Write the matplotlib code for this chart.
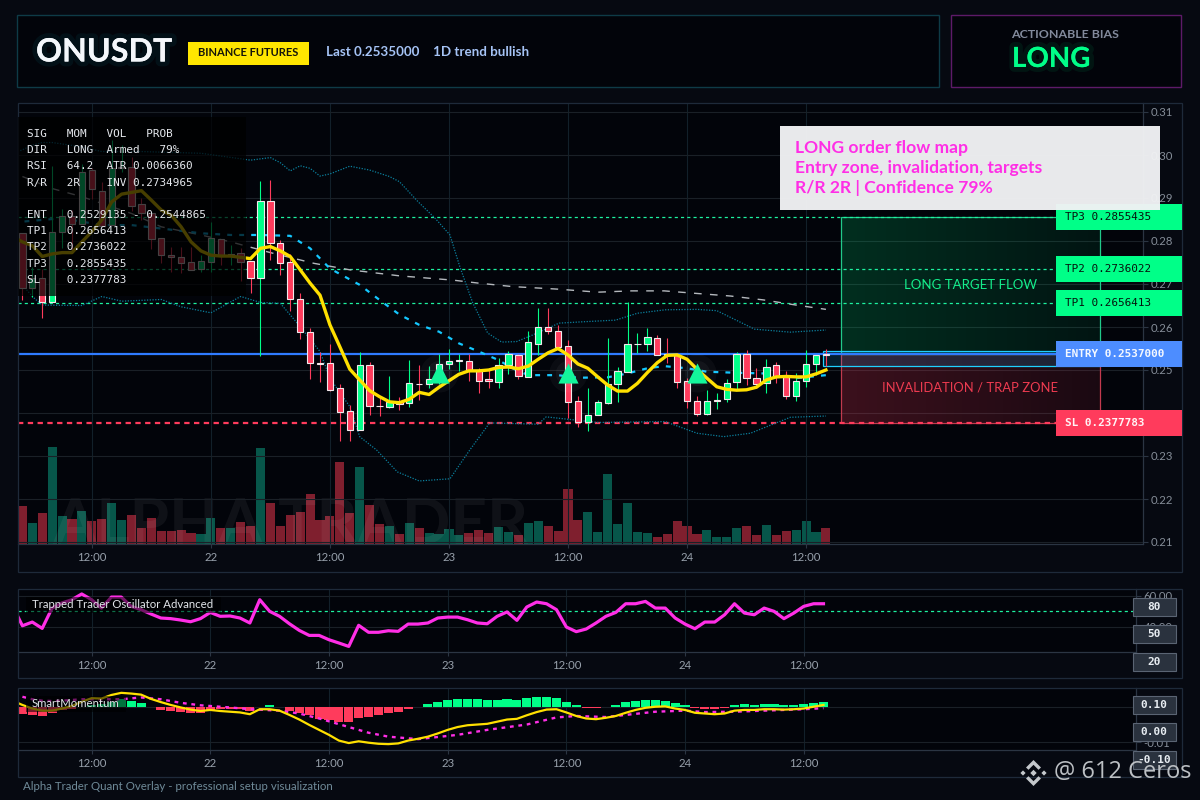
"""ONUSDT long setup chart with volume, oscillator and momentum panes."""

import matplotlib

matplotlib.use("Agg")

import matplotlib.patheffects as pe
import matplotlib.pyplot as plt
import numpy as np
from matplotlib.patches import Polygon, Rectangle

plt.rcParams["font.family"] = ["Lato", "DejaVu Sans"]

W, H = 1200, 800
BG = "#060911"
PANEL = "#02040a"
GRID = "#1a2027"
EDGE = "#1e2a3a"
GREEN = "#00ff88"
RED = "#ff3b5c"
YELLOW = "#ffe000"
MAGENTA = "#ff2ee6"
CYAN = "#14c8ff"
MONO = "DejaVu Sans Mono"

TP1, TP2, TP3 = 0.2656413, 0.2736022, 0.2855435
ENTRY = 0.2537
SL = 0.2377783
ENTRY_TOP, ENTRY_BOTTOM = 0.2544, 0.2509

opens = [
    .2818, .2691, .2715, .2657, .2820, .2857, .2839, .2965, .2917, .2837,
    .2969, .2973, .2885, .2864, .2806, .2767, .2762, .2750, .2734, .2752,
    .2804, .2765, .2771, .2753, .2715, .2894, .2796, .2750, .2666, .2588,
    .2516, .2516, .2457, .2404, .2360, .2511, .2417, .2414, .2426, .2423,
    .2468, .2467, .2477, .2515, .2521, .2522, .2500, .2478, .2473, .2512,
    .2534, .2483, .2561, .2599, .2590, .2555, .2427, .2380, .2395, .2424,
    .2468, .2495, .2560, .2560, .2574, .2537, .2534, .2474, .2429, .2398,
    .2428, .2432, .2471, .2538, .2481, .2469, .2511, .2484, .2440, .2474,
    .2513, .2537,
]
closes = [
    .2691, .2713, .2657, .2820, .2857, .2839, .2961, .2920, .2835, .2969,
    .2973, .2882, .2864, .2804, .2767, .2762, .2750, .2733, .2753, .2806,
    .2765, .2770, .2752, .2715, .2894, .2796, .2750, .2666, .2588, .2516,
    .2515, .2454, .2403, .2360, .2511, .2417, .2416, .2426, .2420, .2469,
    .2467, .2478, .2515, .2522, .2522, .2500, .2475, .2474, .2511, .2537,
    .2485, .2564, .2599, .2590, .2554, .2426, .2380, .2395, .2425, .2467,
    .2497, .2560, .2560, .2576, .2536, .2535, .2473, .2429, .2398, .2429,
    .2429, .2469, .2537, .2481, .2468, .2508, .2484, .2440, .2474, .2513,
    .2536, .2535,
]
highs = [
    .2819, .2740, .2736, .2974, .2874, .2872, .2980, .2969, .2938, .3035,
    .3023, .2996, .2899, .2868, .2806, .2787, .2787, .2787, .2767, .2845,
    .2804, .2790, .2783, .2753, .2939, .2942, .2802, .2770, .2678, .2597,
    .2542, .2560, .2467, .2419, .2542, .2519, .2438, .2486, .2437, .2523,
    .2512, .2509, .2537, .2549, .2537, .2537, .2504, .2504, .2529, .2545,
    .2537, .2591, .2644, .2644, .2605, .2570, .2440, .2458, .2430, .2574,
    .2506, .2657, .2585, .2597, .2581, .2574, .2539, .2481, .2440, .2453,
    .2447, .2479, .2543, .2546, .2504, .2526, .2519, .2497, .2492, .2546,
    .2536, .2550,
]
lows = [
    .2663, .2670, .2622, .2657, .2783, .2779, .2839, .2898, .2835, .2837,
    .2960, .2870, .2849, .2781, .2750, .2729, .2726, .2733, .2729, .2729,
    .2744, .2744, .2707, .2680, .2533, .2756, .2721, .2638, .2573, .2480,
    .2472, .2452, .2336, .2336, .2360, .2395, .2392, .2411, .2407, .2415,
    .2430, .2457, .2467, .2502, .2498, .2474, .2447, .2457, .2459, .2491,
    .2478, .2483, .2535, .2584, .2547, .2388, .2368, .2359, .2395, .2420,
    .2426, .2495, .2539, .2544, .2536, .2517, .2457, .2412, .2392, .2395,
    .2409, .2426, .2454, .2465, .2457, .2447, .2469, .2433, .2429, .2461,
    .2488, .2509,
]
volumes = [
    38, 21, 31, 97, 28, 25, 33, 23, 25, 41, 24, 29, 16, 26, 13, 13, 14, 11, 10, 26,
    16, 16, 22, 18, 96, 41, 18, 29, 32, 50, 24, 28, 82, 31, 77, 39, 20, 18, 10, 21,
    16, 11, 10, 15, 9, 11, 14, 11, 17, 12, 9, 21, 23, 18, 13, 55, 24, 32, 12, 70,
    20, 41, 12, 11, 7, 10, 23, 18, 10, 14, 7, 7, 16, 18, 9, 19, 9, 13, 14, 23,
    12, 16,
]
# first value of each of these sits one bar left of the pane edge
ema_fast = [
    .2810, .2798, .2789, .2764, .2770, .2773, .2773, .2798, .2822, .2849, .2891,
    .2909, .2913, .2917, .2895, .2872, .2860, .2833, .2798, .2777, .2767,
    .2765, .2765, .2762, .2759, .2783, .2787, .2777, .2764, .2733, .2702,
    .2674, .2605, .2554, .2502, .2477, .2452, .2438, .2426, .2424, .2432,
    .2448, .2443, .2460, .2475, .2490, .2498, .2498, .2500, .2506, .2507,
    .2503, .2509, .2525, .2540, .2550, .2535, .2514, .2504, .2484, .2465,
    .2451, .2451, .2469, .2494, .2517, .2534, .2535, .2525, .2502, .2481,
    .2461, .2455, .2453, .2454, .2460, .2477, .2484, .2485, .2484, .2484,
    .2491, .2500,
]
oscillator = [
    53.6, 40.6, 43.0, 38.9, 52.0, 55.3, 57.4, 61.1, 57.4, 52.0, 59.1,
    59.1, 53.1, 51.0, 48.2, 45.6, 45.2, 44.3, 43.2, 45.2, 49.2,
    46.7, 46.9, 45.6, 42.4, 57.4, 49.9, 46.7, 41.9, 37.6, 34.4,
    34.4, 31.6, 29.5, 27.3, 40.9, 36.4, 36.4, 37.4, 37.0, 41.7,
    41.7, 42.4, 45.6, 46.2, 46.2, 44.5, 42.4, 41.9, 46.7, 49.5,
    44.1, 52.7, 55.9, 54.8, 51.0, 39.8, 36.8, 38.5, 42.4, 46.7,
    49.2, 54.8, 54.8, 56.3, 52.0, 52.0, 45.6, 41.7, 38.7, 43.0,
    43.0, 47.7, 54.8, 48.8, 47.7, 52.0, 49.9, 45.2, 48.8, 53.1,
    54.8, 54.8,
]
momentum_line = [
    .0017, .0005, -.0005, -.0011, -.0011, -.0005, .0002, .0014, .0024, .0023, .0033,
    .0039, .0037, .0034, .0022, .0013, .0005, -.0002, -.0008, -.0012, -.0009,
    -.0012, -.0014, -.0016, -.0021, -.0007, -.0007, -.0011, -.0023, -.0036, -.0051,
    -.0065, -.0079, -.0095, -.0102, -.0097, -.0101, -.0104, -.0105, -.0103, -.0095,
    -.0090, -.0084, -.0075, -.0065, -.0057, -.0052, -.0050, -.0048, -.0042, -.0036,
    -.0034, -.0024, -.0015, -.0008, -.0007, -.0016, -.0026, -.0033, -.0035, -.0031,
    -.0026, -.0017, -.0009, -.0003, .0000, .0001, -.0005, -.0009, -.0017, -.0019,
    -.0021, -.0019, -.0011, -.0009, -.0009, -.0007, -.0007, -.0008, -.0007, -.0005,
    .0000, .0005,
]
momentum_hist = [
    -.0021, -.0023, -.0026, -.0017, -.0009, -.0005, -.0001, .0005, .0008, .0014,
    .0021, .0017, .0010, -.0001, -.0009, -.0012, -.0015, -.0018, -.0017, -.0008,
    -.0007, -.0006, -.0007, -.0011, -.0001, .0005, -.0001, -.0011, -.0019, -.0023,
    -.0035, -.0037, -.0042, -.0043, -.0032, -.0028, -.0023, -.0017, -.0014, -.0007,
    -.0001, .0007, .0013, .0019, .0022, .0022, .0022, .0019, .0019, .0021,
    .0019, .0024, .0027, .0027, .0024, .0013, .0005, -.0004, -.0004, -.0001,
    .0005, .0013, .0016, .0019, .0019, .0016, .0010, .0005, -.0004, -.0007,
    -.0007, -.0004, .0005, .0007, .0005, .0007, .0007, .0005, .0005, .0007,
    .0010, .0013,
]
signal_idx = [
    0, 1, 2, 3, 4, 5, 6, 8, 10, 12, 14, 16, 18, 21, 23, 26, 28, 30, 32, 35, 37, 40,
    44, 47, 51, 54, 56, 59, 61, 64, 67, 69, 72, 76, 79, 81,
]
signal_vals = [
    .0028, .0021, .0017, .0016, .0017, .0019, .0021, .0021, .0021, .0026, .0021,
    .0011, .0004, -.0002, -.0007, -.0011, -.0019, -.0033, -.0049, -.0073, -.0084,
    -.0091, -.0079, -.0065, -.0050, -.0030, -.0026, -.0029, -.0023, -.0014, -.0011,
    -.0015, -.0014, -.0010, -.0007, -.0004,
]
upper_idx = [
    -1, 0, 1, 2, 3, 6, 8, 12, 18, 23, 25, 26, 27, 28, 29, 30, 31, 33, 35, 37, 38,
    39.9, 41.6, 43.1, 44.1, 45.4, 46.9, 48.3, 49.8, 51.4, 54.1, 56.4, 59.8, 62,
    64.8, 68, 70, 73.8, 77.4, 81,
]
upper_vals = [
    .3004, .3012, .3023, .3029, .3029, .3019, .3008, .3008, .3004, .2988, .2994,
    .2982, .2963, .2975, .2969, .2951, .2956, .2974, .2965, .2950, .2938,
    .2891, .2853, .2814, .2740, .2656, .2586, .2565, .2566, .2581, .2609, .2612,
    .2616, .2632, .2640, .2641, .2638, .2595, .2588, .2593,
]
lower_idx = [
    -1, 0, 1, 2, 6, 8, 10, 14, 16, 19, 22, 24, 26, 28, 30, 31, 33, 34, 35.7, 37.8,
    40, 43.1, 45.1, 47.1, 52, 52.8, 58, 64.8, 68, 70.7, 73.4, 77.4, 81,
]
lower_vals = [
    .2717, .2698, .2671, .2651, .2650, .2671, .2660, .2664, .2647, .2633, .2671,
    .2657, .2655, .2601, .2543, .2481, .2415, .2345, .2314, .2263, .2242, .2247,
    .2314, .2377, .2374, .2391, .2378, .2380, .2353, .2345, .2353, .2390, .2393,
]
slow_idx = [
    -1, 0, 4, 8, 11, 14, 18, 21, 24, 27, 29, 31, 34, 36, 38, 40, 42, 44, 46, 48,
    49.4, 51, 54, 56, 59, 61, 63, 64.7, 67, 69, 71.4, 74.7, 78, 81,
]
slow_vals = [
    .2845, .2845, .2853, .2837, .2837, .2829, .2818, .2814, .2814, .2812, .2783,
    .2736, .2698, .2663, .2629, .2605, .2589, .2562, .2543, .2523, .2504, .2488,
    .2488, .2482, .2483, .2492, .2504, .2509, .2504, .2496, .2494, .2492, .2481,
    .2488,
]
long_idx = [0, 3, 6, 11, 14, 18, 21, 25, 29.4, 33, 38, 43.4, 46, 49.4, 54, 58, 61.4, 64.7, 68, 71.4, 74.7, 78, 81]
long_vals = [
    .2950, .2922, .2903, .2864, .2833, .2814, .2798, .2773, .2748, .2733, .2719,
    .2709, .2702, .2694, .2688, .2681, .2684, .2684, .2678, .2672, .2663, .2651,
    .2641,
]
signal_bars = [42, 55, 68]
signal_prices = [.2493, .2493, .2493]

price_ticks = [.21, .22, .23, .24, .25, .26, .27, .28, .29, .30, .31]
time_ticks = [7, 19, 31, 43, 55, 67, 79]
time_labels = ["12:00", "22", "12:00", "23", "12:00", "24", "12:00"]
osc_ticks = [40, 60]
mom_ticks = [-0.01, 0.0]

info_lines = [
    "SIG   MOM   VOL   PROB",
    "DIR   LONG  Armed   79%",
    "RSI   64.2  ATR 0.0066360",
    "R/R   2R    INV 0.2734965",
    "",
    "ENT   0.2529135 - 0.2544865",
    "TP1   0.2656413",
    "TP2   0.2736022",
    "TP3   0.2855435",
    "SL    0.2377783",
]
note_lines = [
    "LONG order flow map",
    "Entry zone, invalidation, targets",
    "R/R 2R | Confidence 79%",
]


def px_axes(fig, left, top, right, bottom, **kw):
    """Axes placed by pixel box, y counted from the top of the picture."""
    return fig.add_axes(
        [left / W, 1 - bottom / H, (right - left) / W, (bottom - top) / H], **kw
    )


def bar_x(px, step=9.92):
    """Bar index under a pixel column."""
    return (px - 22.4) / step


def price_y(price):
    return 370 - (price - 0.25) * 4300


def style_pane(ax, xlim, yticks, ylabels, tick_color="#858d98"):
    ax.set_facecolor("none")
    ax.set_xlim(*xlim)
    ax.set_xticks(time_ticks)
    ax.set_xticklabels(time_labels)
    ax.set_yticks(yticks)
    ax.set_yticklabels(ylabels)
    ax.yaxis.tick_right()
    ax.grid(True, color=GRID, lw=0.8)
    ax.grid(True, axis="x", color="#12202a", lw=0.8)
    ax.set_axisbelow(True)
    ax.tick_params(axis="x", length=3, color="#2b3543", labelcolor="#97a0ab", labelsize=8.2, pad=3)
    ax.tick_params(axis="y", length=3.6, color="#2b3543", labelcolor=tick_color, labelsize=8.2, pad=2)
    for side in ("left", "top"):
        ax.spines[side].set_visible(False)
    for side in ("right", "bottom"):
        ax.spines[side].set_color("#2b3543")
        ax.spines[side].set_linewidth(0.9)


def draw_candles(ax):
    idx = np.arange(len(opens))
    o, c = np.array(opens), np.array(closes)
    colors = [GREEN if a >= b else RED for a, b in zip(c, o)]
    ax.vlines(idx, lows, highs, colors=colors, lw=0.8, zorder=6)
    low_edge = np.minimum(o, c)
    height = np.maximum(np.abs(c - o), 0.00012)
    ax.bar(idx, height, bottom=low_edge, width=0.64, color=colors,
           edgecolor="#f3e9ec", linewidth=0.8, zorder=7)


def draw_main(fig):
    ax = px_axes(fig, 17.5, 103, 1143, 544, zorder=3)
    style_pane(ax, (bar_x(17.5), bar_x(1143)), price_ticks, [f"{t:.2f}" for t in price_ticks])
    ax.set_ylim(0.25 - 174 / 4300, 0.25 + 267 / 4300)

    # volume shares the pane, on its own hidden scale of pixel-sized units
    vol_ax = px_axes(fig, 17.5, 103, 1143, 544, zorder=2)
    vol_ax.set_facecolor(PANEL)
    vol_ax.set_xlim(ax.get_xlim())
    vol_ax.set_ylim(0, 441)
    vol_ax.set_xticks([])
    vol_ax.set_yticks([])
    for spine in vol_ax.spines.values():
        spine.set_visible(False)
    idx = np.arange(len(volumes))
    vol_colors = ["#07564a" if b >= a else "#7f1f2e" for a, b in zip(opens, closes)]
    vol_ax.bar(idx, volumes, width=0.92, color=vol_colors)
    vol_ax.text(bar_x(52), 0, "ALPHA TRADER", color="white", alpha=0.055, fontsize=46,
                fontweight="bold", va="baseline", ha="left", clip_on=True)

    # target, trap and entry zones
    left, right = bar_x(841), bar_x(1100)
    gradient = np.zeros((2, 64, 4))
    gradient[..., 0:3] = (0.0, 1.0, 0.53)
    gradient[..., 3] = np.linspace(0.17, 0.07, 64)
    ax.imshow(gradient, extent=(left, right, ENTRY, TP3), aspect="auto", zorder=1)
    gradient = np.zeros((2, 64, 4))
    gradient[..., 0:3] = (1.0, 0.23, 0.36)
    gradient[..., 3] = np.linspace(0.23, 0.10, 64)
    ax.imshow(gradient, extent=(left, right, SL, ENTRY), aspect="auto", zorder=1)
    ax.add_patch(Rectangle((left, ENTRY), right - left, TP3 - ENTRY, fill=False,
                           ec="#21c98a", lw=0.9, zorder=2))
    ax.add_patch(Rectangle((left, SL), right - left, ENTRY - SL, fill=False,
                           ec="#c23a4e", lw=0.9, zorder=2))
    ax.add_patch(Rectangle((bar_x(823), ENTRY_BOTTOM), right - bar_x(823), ENTRY_TOP - ENTRY_BOTTOM,
                           fc=(0.08, 0.7, 1.0, 0.15), ec="#1fd0ff", lw=0.9, zorder=3))

    for level in (TP1, TP2, TP3):
        ax.plot([bar_x(17.5), bar_x(1056)], [level, level], color="#1df2a0", lw=0.9,
                dashes=(2.5, 2.5), zorder=4)
    ax.plot([bar_x(17.5), bar_x(1056)], [ENTRY, ENTRY], color="#2f7bff", lw=1.6, zorder=4)
    ax.plot([bar_x(17.5), bar_x(1056)], [SL, SL], color=RED, lw=1.6, dashes=(2.4, 2), zorder=4)

    ax.plot(upper_idx, upper_vals, color="#0b7f9c", lw=0.9, ls=(0, (1, 1.2)), zorder=5)
    ax.plot(lower_idx, lower_vals, color="#0b7f9c", lw=0.9, ls=(0, (1, 1.2)), zorder=5)
    ax.plot(long_idx, long_vals, color="#b4b8bd", lw=1.0, dashes=(5.5, 6), zorder=5)
    ax.plot(slow_idx, slow_vals, color=CYAN, lw=1.6, dashes=(2.2, 3.2), zorder=5)

    draw_candles(ax)
    ax.plot(np.arange(-1, len(opens)), ema_fast, color=YELLOW, lw=2.4, zorder=8,
            solid_joinstyle="round")
    ax.scatter(signal_bars, signal_prices, s=750, color="white", alpha=0.035, lw=0, zorder=8)
    ax.scatter(signal_bars, signal_prices, s=330, color="white", alpha=0.04, lw=0, zorder=8)
    ax.scatter(signal_bars, signal_prices, s=210, marker="^", color="#13f59b", lw=0, zorder=9)
    return ax


def lower_xlim():
    # the two lower panes run a touch tighter than the price pane
    return bar_x(17.5, 9.89), bar_x(1136, 9.89)


def draw_oscillator(fig):
    ax = px_axes(fig, 17.5, 589, 1136, 652, zorder=3)
    style_pane(ax, lower_xlim(), osc_ticks, [f"{t:.2f}" for t in osc_ticks])
    ax.set_facecolor(PANEL)
    ax.set_ylim(23.7, 64.3)
    ax.axhline(50, color="#1df2a0", lw=0.9, dashes=(2.5, 2.5), zorder=2)
    ax.plot(np.arange(-1, len(opens)), oscillator, color=MAGENTA, lw=2.3, zorder=3)


def draw_momentum(fig):
    ax = px_axes(fig, 17.5, 687.5, 1136, 750, zorder=3)
    style_pane(ax, lower_xlim(), mom_ticks, [f"{t:.2f}" for t in mom_ticks])
    ax.set_facecolor(PANEL)
    ax.set_ylim(-0.01215, 0.0054)
    idx = np.arange(len(momentum_hist))
    colors = [GREEN if v >= 0 else RED for v in momentum_hist]
    ax.bar(idx, momentum_hist, width=0.92, color=colors, zorder=2)
    ax.plot(signal_idx, signal_vals, color=MAGENTA, lw=1.7, dashes=(1.6, 2), zorder=3)
    ax.plot(np.arange(-1, len(opens)), momentum_line, color=YELLOW, lw=1.6, zorder=4)


def price_tag(ov, top, height, text, color, text_color, text_x=1065, weight="normal"):
    ov.add_patch(Rectangle((1056, top), 126, height, fc=color, ec="none", zorder=3))
    ov.text(text_x, top + height / 2, text, color=text_color, family=MONO,
            fontsize=7.9, va="center", ha="left", fontweight=weight, zorder=4)


def scale_box(ov, top, text):
    ov.add_patch(Rectangle((1132.5, top), 43, 18.5, fc="#2a323e", ec="#5a6473", lw=0.8, zorder=3))
    ov.text(1154, top + 9.5, text, color="#e8edf2", family=MONO, fontsize=8,
            fontweight="bold", va="center", ha="center", zorder=4)


def draw_overlay(fig):
    ov = fig.add_axes([0, 0, 1, 1], zorder=10)
    ov.set_xlim(0, W)
    ov.set_ylim(H, 0)
    ov.axis("off")
    ov.patch.set_alpha(0)

    # header boxes
    ov.add_patch(Rectangle((17, 15), 922, 71.5, fc=PANEL, ec="#0e3b47", lw=1))
    ov.add_patch(Rectangle((951, 15), 230, 71.5, fc=PANEL, ec="#5d1a68", lw=1))
    ov.text(36, 52, "ONUSDT", color="#f4f7fb", fontsize=23.2, fontweight="bold", va="center",
            path_effects=[pe.withStroke(linewidth=7, foreground="#0fb9d0", alpha=0.07),
                          pe.Normal()])
    ov.add_patch(Rectangle((188, 42), 121, 23, fc="#ffe600", ec="none"))
    ov.text(248.5, 53, "BINANCE FUTURES", color="#14140a", fontsize=8.0, fontweight="bold",
            ha="center", va="center")
    ov.text(326, 52, "Last 0.2535000", color="#a5c3f5", fontsize=9.6, fontweight="bold", va="center")
    ov.text(433, 52, "1D trend bullish", color="#a5c3f5", fontsize=9.6, fontweight="bold", va="center")
    ov.text(1011, 34, "ACTIONABLE BIAS", color="#828a9c", fontsize=8.9, fontweight="bold", va="center")
    ov.text(1012, 59, "LONG", color=GREEN, fontsize=20, fontweight="bold", va="center",
            path_effects=[pe.withStroke(linewidth=7, foreground=GREEN, alpha=0.07), pe.Normal()])

    # pane frames
    for top, bottom in ((103, 572), (589, 678), (687.5, 776.5)):
        ov.add_patch(Rectangle((17.5, top), 1164.5, bottom - top, fill=False, ec=EDGE, lw=0.9))

    # readout block sits over the candles
    ov.add_patch(Rectangle((18, 117), 228, 179, fc=(0, 0, 0, 0.72), ec="none", zorder=2))
    for row, line in zip((134, 150, 166, 183, 199, 215, 231, 247, 264, 280), info_lines):
        ov.text(27, row, line, color="#e6e9ee", family=MONO, fontsize=7.9, va="center", zorder=4)

    ov.text(971, 285, "LONG TARGET FLOW", color="#14ee8c", fontsize=9.5,
            ha="center", va="center", zorder=2)
    ov.text(970, 388, "INVALIDATION / TRAP ZONE", color="#ee3b50", fontsize=9.4,
            ha="center", va="center", zorder=2)

    price_tag(ov, price_y(TP3) - 13, 26, "TP3 0.2855435", GREEN, "#06120c")
    price_tag(ov, price_y(TP2) - 13, 26, "TP2 0.2736022", GREEN, "#06120c")
    price_tag(ov, price_y(TP1) - 13, 26, "TP1 0.2656413", GREEN, "#06120c")
    price_tag(ov, price_y(ENTRY) - 13, 26, "ENTRY 0.2537000", "#4d8dff", "#f4f8ff", weight="bold")
    price_tag(ov, price_y(SL) - 13, 26, "SL 0.2377783", RED, "#fff4f6", weight="bold")

    ov.add_patch(Rectangle((780, 126), 380, 84, fc=(0.945, 0.95, 0.955, 0.97), ec="none", zorder=5))
    for row, line in zip((148, 168, 188), note_lines):
        ov.text(795, row, line, color=MAGENTA, fontsize=12.6, fontweight="bold",
                va="center", zorder=6)

    # pane captions
    ov.add_patch(Rectangle((26, 597), 195, 16, fc=(0, 0, 0, 0.55), ec="none", zorder=2))
    ov.text(32, 605, "Trapped Trader Oscillator Advanced", color="#e2e5ea", fontsize=8.2,
            va="center", zorder=4)
    ov.add_patch(Rectangle((26, 696), 100, 16, fc=(0, 0, 0, 0.55), ec="none", zorder=2))
    ov.text(32, 703.5, "SmartMomentum", color="#e2e5ea", fontsize=8.2, va="center", zorder=4)
    for top, text in ((597.5, "80"), (624.5, "50"), (652.5, "20"),
                      (695.5, "0.10"), (722.5, "0.00"), (750.5, "-0.10")):
        scale_box(ov, top, text)

    ov.text(23, 787, "Alpha Trader Quant Overlay - professional setup visualization",
            color="#6f8a98", fontsize=8.3, va="center")

    # exchange mark and credit
    mark = "#c4c8cc"
    cx, cy = 1033.5, 773
    for dx, dy, r in ((0, 0, 3.2), (-10.5, 0, 2.6), (10.5, 0, 2.6)):
        ov.add_patch(Polygon([(cx + dx - r, cy + dy), (cx + dx, cy + dy - r),
                              (cx + dx + r, cy + dy), (cx + dx, cy + dy + r)],
                             fc=mark, ec="none", zorder=6))
    for sign in (-1, 1):
        ov.add_patch(Polygon([(cx - 7.5, cy + sign * 5.5), (cx, cy + sign * 13),
                              (cx + 7.5, cy + sign * 5.5), (cx + 5, cy + sign * 3.2),
                              (cx, cy + sign * 8.2), (cx - 5, cy + sign * 3.2)],
                             fc=mark, ec="none", zorder=6))
    ov.text(1054, 772, "@ 612 Ceros", color="#bcc0c4", family="Open Sans", fontsize=17,
            va="center", zorder=6)


def main():
    fig = plt.figure(figsize=(W / 100, H / 100), dpi=100, facecolor=BG)
    draw_main(fig)
    draw_oscillator(fig)
    draw_momentum(fig)
    draw_overlay(fig)
    fig.savefig("out.png", dpi=100, facecolor=BG)
    plt.close(fig)


if __name__ == "__main__":
    main()
